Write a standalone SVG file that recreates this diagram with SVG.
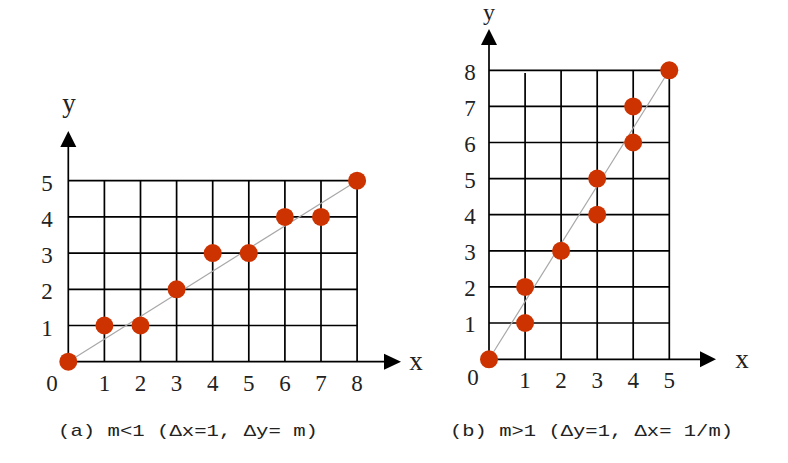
<svg xmlns="http://www.w3.org/2000/svg" width="788" height="463" viewBox="0 0 788 463">
<style>
.grid{stroke:#000;stroke-width:1.7;fill:none}
.diag{stroke:#a8a8a8;stroke-width:1.2}
.pt{fill:#cc3300}
.ar{fill:#000}
.num{font-family:"Liberation Serif",serif;font-size:23px;fill:#222;text-anchor:middle}
.ax{font-family:"Liberation Serif",serif;font-size:27px;fill:#222;text-anchor:middle}
.cap{font-family:"Liberation Mono","Noto Sans CJK SC",monospace;font-size:17px;fill:#222}
</style>
<rect width="788" height="463" fill="#fff"/>
<g id="plot-a">
  <g id="grid-a" class="grid">
    <path d="M68.3,180.7H357.1M68.3,216.9H357.1M68.3,253.1H357.1M68.3,289.3H357.1M68.3,325.5H357.1"/>
    <path d="M104.4,180.7V361.7M140.5,180.7V361.7M176.6,180.7V361.7M212.7,180.7V361.7M248.8,180.7V361.7M284.9,180.7V361.7M321,180.7V361.7M357.1,180.7V361.7"/>
    <path d="M68.3,361.7V144M68.3,361.7H386"/>
  </g>
  <polygon class="ar" points="68.3,131 60.3,147 76.3,147"/>
  <polygon class="ar" points="401,361.7 384,353.7 384,369.7"/>
  <line class="diag" x1="68.3" y1="361.7" x2="357.1" y2="180.7"/>
  <g id="points-a">
    <circle class="pt" cx="68.3" cy="361.7" r="9"/>
    <circle class="pt" cx="104.4" cy="325.5" r="9"/>
    <circle class="pt" cx="140.5" cy="325.5" r="9"/>
    <circle class="pt" cx="176.6" cy="289.3" r="9"/>
    <circle class="pt" cx="212.7" cy="253.1" r="9"/>
    <circle class="pt" cx="248.8" cy="253.1" r="9"/>
    <circle class="pt" cx="284.9" cy="216.9" r="9"/>
    <circle class="pt" cx="321" cy="216.9" r="9"/>
    <circle class="pt" cx="357.1" cy="180.7" r="9"/>
  </g>
  <g id="labels-a">
    <text class="ax" x="69" y="112">y</text>
    <text class="ax" x="416" y="370">x</text>
    <text class="num" x="52" y="391">0</text>
    <text class="num" x="104.4" y="391">1</text>
    <text class="num" x="140.5" y="391">2</text>
    <text class="num" x="176.6" y="391">3</text>
    <text class="num" x="212.7" y="391">4</text>
    <text class="num" x="248.8" y="391">5</text>
    <text class="num" x="284.9" y="391">6</text>
    <text class="num" x="321" y="391">7</text>
    <text class="num" x="357.1" y="391">8</text>
    <text class="num" x="47" y="335.5">1</text>
    <text class="num" x="47" y="299.3">2</text>
    <text class="num" x="47" y="263.1">3</text>
    <text class="num" x="47" y="226.9">4</text>
    <text class="num" x="47" y="190.7">5</text>
  </g>
  <text class="cap" x="58" y="436" textLength="260" lengthAdjust="spacingAndGlyphs">(a) m&lt;1 (Δx=1, Δy= m)</text>
</g>
<g id="plot-b">
  <g id="grid-b" class="grid">
    <path d="M489,70.3H669.3M489,106.4H669.3M489,142.5H669.3M489,178.6H669.3M489,214.7H669.3M489,250.8H669.3M489,286.9H669.3M489,323H669.3"/>
    <path d="M525.1,73V359.3M561.1,70.3V359.3M597.2,70.3V359.3M633.2,70.3V359.3M669.3,70.3V359.3"/>
    <path d="M489,359.3V42M489,359.3H702"/>
  </g>
  <polygon class="ar" points="489,29 481,45 497,45"/>
  <polygon class="ar" points="716,359.3 700,351.3 700,367.3"/>
  <line class="diag" x1="489" y1="359.3" x2="669.3" y2="70.3"/>
  <g id="points-b">
    <circle class="pt" cx="489" cy="359.3" r="9"/>
    <circle class="pt" cx="525.1" cy="323" r="9"/>
    <circle class="pt" cx="525.1" cy="286.9" r="9"/>
    <circle class="pt" cx="561.1" cy="250.8" r="9"/>
    <circle class="pt" cx="597.2" cy="214.7" r="9"/>
    <circle class="pt" cx="597.2" cy="178.6" r="9"/>
    <circle class="pt" cx="633.2" cy="142.5" r="9"/>
    <circle class="pt" cx="633.2" cy="106.4" r="9"/>
    <circle class="pt" cx="669.3" cy="70.3" r="9"/>
  </g>
  <g id="labels-b">
    <text class="ax" x="489" y="20" style="font-size:24px">y</text>
    <text class="ax" x="742" y="368">x</text>
    <text class="num" x="473" y="385">0</text>
    <text class="num" x="525.1" y="388">1</text>
    <text class="num" x="561.1" y="388">2</text>
    <text class="num" x="597.2" y="388">3</text>
    <text class="num" x="633.2" y="388">4</text>
    <text class="num" x="669.3" y="388">5</text>
    <text class="num" x="470" y="332">1</text>
    <text class="num" x="470" y="296">2</text>
    <text class="num" x="470" y="260">3</text>
    <text class="num" x="470" y="224">4</text>
    <text class="num" x="470" y="188">5</text>
    <text class="num" x="470" y="152">6</text>
    <text class="num" x="470" y="116">7</text>
    <text class="num" x="470" y="80">8</text>
  </g>
  <text class="cap" x="450" y="436" textLength="283" lengthAdjust="spacingAndGlyphs">(b) m&gt;1 (Δy=1, Δx= 1/m)</text>
</g>
</svg>
